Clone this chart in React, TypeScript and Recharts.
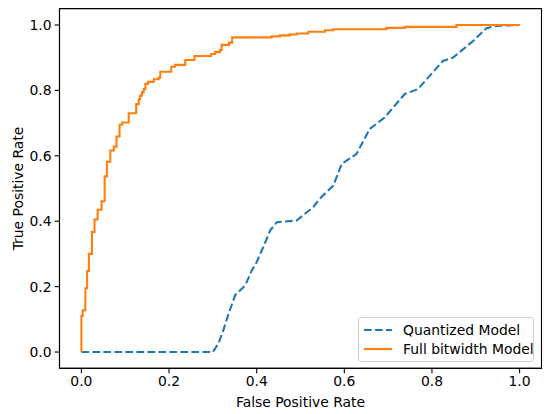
import React from 'react';
import { LineChart, Line, XAxis, YAxis, ReferenceArea } from 'recharts';

// ROC curve points
const quantizedFpr = [0, 0.3, 0.313, 0.324, 0.336, 0.351, 0.374, 0.389, 0.4, 0.415, 0.431, 0.446, 0.491, 0.529, 0.544, 0.575, 0.594, 0.628, 0.658, 0.692, 0.738, 0.768, 0.825, 0.848, 0.894, 0.924, 0.947, 1.0];
const quantizedTpr = [0, 0, 0.027, 0.067, 0.118, 0.174, 0.204, 0.25, 0.275, 0.321, 0.372, 0.397, 0.402, 0.443, 0.469, 0.509, 0.575, 0.606, 0.682, 0.717, 0.789, 0.804, 0.89, 0.9, 0.951, 0.99, 0.997, 1.0];

// staircase: each pair is where a vertical step tops out
const fullFpr = [0, 0, 0.003, 0.009, 0.013, 0.017, 0.024, 0.03, 0.037, 0.046, 0.053, 0.058, 0.066, 0.074, 0.08, 0.087, 0.093, 0.108, 0.125, 0.131, 0.134, 0.138, 0.142, 0.146, 0.152, 0.165, 0.176, 0.18, 0.205, 0.214, 0.237, 0.258, 0.296, 0.305, 0.316, 0.32, 0.337, 0.344, 0.434, 0.453, 0.476, 0.491, 0.518, 0.556, 0.575, 0.696, 0.738, 0.856, 1.0];
const fullTpr = [0, 0.11, 0.128, 0.195, 0.248, 0.3, 0.367, 0.405, 0.435, 0.461, 0.537, 0.582, 0.616, 0.628, 0.659, 0.695, 0.702, 0.73, 0.758, 0.773, 0.784, 0.794, 0.804, 0.82, 0.826, 0.834, 0.839, 0.857, 0.872, 0.878, 0.893, 0.905, 0.911, 0.917, 0.923, 0.939, 0.946, 0.962, 0.965, 0.968, 0.971, 0.974, 0.979, 0.984, 0.987, 0.991, 0.994, 1.0, 1.0];

const ticks = [0, 0.2, 0.4, 0.6, 0.8, 1.0];

const BLUE = '#1f77b4';
const ORANGE = '#ff7f0e';
const FONT = 'DejaVu Sans';
const FS = 13.9;
const DASH = '7.7 3.3';

const toPoints = (xs: number[], ys: number[]) => xs.map((x, i) => ({ fpr: x, tpr: ys[i] }));

const quantized = toPoints(quantizedFpr, quantizedTpr);
const full = toPoints(fullFpr, fullTpr);

const tickStyle = { fill: '#000', fontSize: FS, fontFamily: FONT };

export default function App() {
    return (
        <div style={{ position: 'absolute', left: 0, top: 0, width: 550, height: 414, background: '#fff' }}>
            <LineChart width={550} height={414} margin={{ top: 8.6, right: 8.5, bottom: 0, left: 0 }}>
                <XAxis
                    dataKey="fpr"
                    type="number"
                    domain={[-0.05, 1.05]}
                    ticks={ticks}
                    tickFormatter={(v: number) => v.toFixed(1)}
                    tick={tickStyle}
                    tickSize={4.9}
                    tickMargin={3}
                    height={45.6}
                    stroke="#000"
                    strokeWidth={1.1}
                    allowDataOverflow
                    label={{ value: 'False Positive Rate', position: 'insideBottom', offset: 7, fill: '#000', fontSize: FS, fontFamily: FONT }}
                />
                <YAxis
                    dataKey="tpr"
                    type="number"
                    domain={[-0.05, 1.05]}
                    ticks={ticks}
                    tickFormatter={(v: number) => v.toFixed(1)}
                    tick={tickStyle}
                    tickSize={4.9}
                    tickMargin={3}
                    width={59.5}
                    stroke="#000"
                    strokeWidth={1.1}
                    allowDataOverflow
                    label={{ value: 'True Positive Rate', angle: -90, position: 'insideLeft', offset: 18, style: { textAnchor: 'middle' }, fill: '#000', fontSize: FS, fontFamily: FONT }}
                />
                <Line
                    data={quantized}
                    dataKey="tpr"
                    name="Quantized Model"
                    type="linear"
                    stroke={BLUE}
                    strokeWidth={2.1}
                    strokeDasharray={DASH}
                    dot={false}
                    activeDot={false}
                    isAnimationActive={false}
                />
                <Line
                    data={full}
                    dataKey="tpr"
                    name="Full bitwidth Model"
                    type="stepAfter"
                    stroke={ORANGE}
                    strokeWidth={2.1}
                    dot={false}
                    activeDot={false}
                    isAnimationActive={false}
                />
                <ReferenceArea x1={-0.05} x2={1.05} y1={-0.05} y2={1.05} fill="none" stroke="#000" strokeWidth={1.1} />
            </LineChart>
            <div
                style={{
                    position: 'absolute',
                    left: 358,
                    top: 317,
                    width: 176,
                    height: 45,
                    boxSizing: 'border-box',
                    border: '1px solid #d0d0d0',
                    borderRadius: 3,
                    background: 'rgba(255,255,255,0.8)',
                    fontFamily: FONT,
                    fontSize: FS,
                    color: '#000',
                }}
            >
                {[
                    { label: 'Quantized Model', color: BLUE, dash: DASH },
                    { label: 'Full bitwidth Model', color: ORANGE, dash: undefined },
                ].map((item, i) => (
                    <div key={item.label} style={{ position: 'absolute', left: 4, top: 3 + i * 19, height: 18, display: 'flex', alignItems: 'center' }}>
                        <svg width={30} height={18}>
                            <line x1={1} y1={9} x2={29} y2={9} stroke={item.color} strokeWidth={2.1} strokeDasharray={item.dash} />
                        </svg>
                        <span style={{ marginLeft: 10, whiteSpace: 'nowrap' }}>{item.label}</span>
                    </div>
                ))}
            </div>
        </div>
    );
}
